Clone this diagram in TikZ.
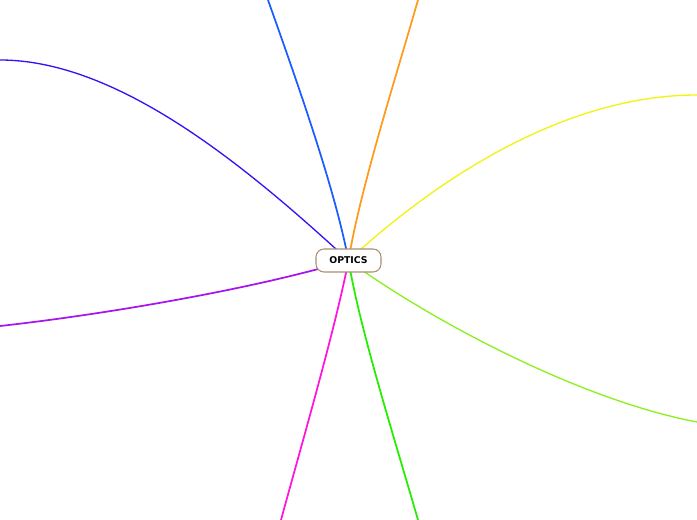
\documentclass[tikz,border=0pt]{standalone}
\usepackage{fontspec}
\setmainfont{DejaVu Sans}
\usetikzlibrary{backgrounds}
\definecolor{nodeline}{HTML}{A89070}
\definecolor{cdarkblue}{HTML}{3A12F2}
\definecolor{cblue}{HTML}{1A5CFF}
\definecolor{corange}{HTML}{FF9A1A}
\definecolor{cyellow}{HTML}{F2F214}
\definecolor{clime}{HTML}{8CF020}
\definecolor{cgreen}{HTML}{22EE00}
\definecolor{cmagenta}{HTML}{FF14DC}
\definecolor{cpurple}{HTML}{A814EE}
\tikzset{
  root/.style={draw=nodeline, fill=white, line width=0.8pt, rounded corners=6pt,
    minimum width=48.75pt, minimum height=17.25pt, inner sep=0pt,
    font=\fontsize{7}{8}\selectfont\bfseries},
  branch/.style={line width=1.3pt},
  thinbranch/.style={line width=1pt}
}
\begin{document}
\begin{tikzpicture}[x=0.75pt,y=-0.75pt]
\useasboundingbox (0,0) rectangle (697,520);

\node[root] (root) at (348.5,260.5) {OPTICS};

\coordinate (e1) at (0,60);
\coordinate (e2) at (268,0);
\coordinate (e3) at (418,0);
\coordinate (e4) at (697,95);
\coordinate (e5) at (697,422);
\coordinate (e6) at (418,520);
\coordinate (e7) at (281,520);
\coordinate (e8) at (0,326);

\begin{scope}[on background layer]
\draw[thinbranch,cdarkblue] (root.center) .. controls (250,170) and (120,60) .. (e1);
\draw[branch,cblue] (root.center) .. controls (335,190) and (300,90) .. (e2);
\draw[branch,corange] (root.center) .. controls (360,190) and (395,80) .. (e3);
\draw[thinbranch,cyellow] (root.center) .. controls (430,185) and (560,95) .. (e4);
\draw[thinbranch,clime] (root.center) .. controls (430,320) and (580,400) .. (e5);
\draw[branch,cgreen] (root.center) .. controls (360,330) and (395,440) .. (e6);
\draw[branch,cmagenta] (root.center) .. controls (335,330) and (300,450) .. (e7);
\draw[branch,cpurple] (root.center) .. controls (250,290) and (100,315) .. (e8);
\end{scope}
\end{tikzpicture}
\end{document}
